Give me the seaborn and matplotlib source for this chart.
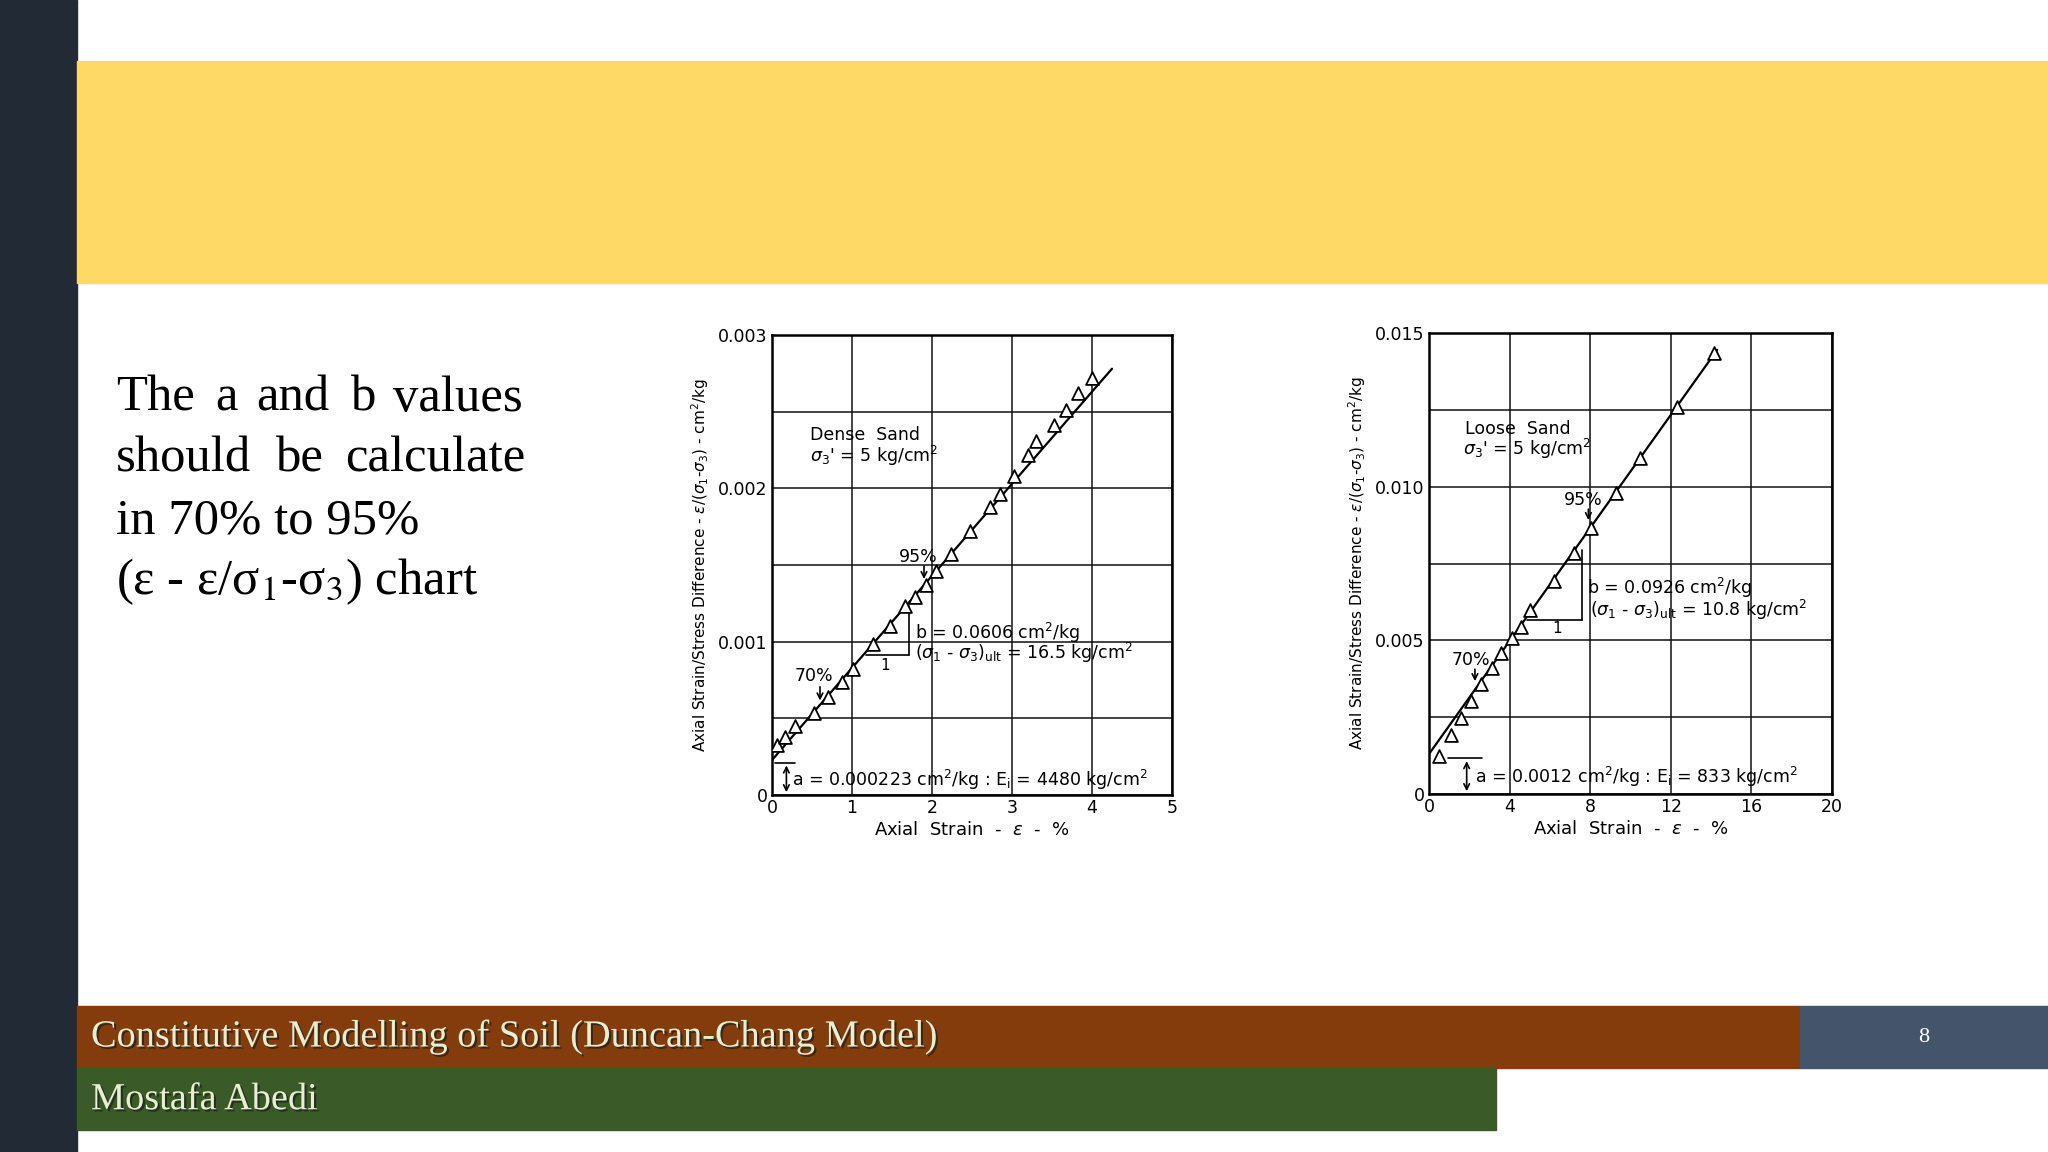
import matplotlib
matplotlib.use("Agg")
import matplotlib.pyplot as plt
import matplotlib.patheffects as pe
from matplotlib.patches import Rectangle
import seaborn as sns
import pandas as pd

# Dense sand test points (axial strain %, strain/stress difference)
dense_strain = [0.06, 0.16, 0.29, 0.52, 0.70, 0.88, 1.01, 1.26, 1.47, 1.66, 1.79, 1.92,
                2.05, 2.24, 2.48, 2.72, 2.85, 3.02, 3.20, 3.30, 3.52, 3.68, 3.82, 4.00]
dense_ratio = [0.000326, 0.00038, 0.00045, 0.000537, 0.000641, 0.000739, 0.00082, 0.000983,
               0.0011, 0.00123, 0.00129, 0.00137, 0.00146, 0.00157, 0.00172, 0.00188,
               0.00196, 0.00208, 0.00222, 0.00231, 0.00241, 0.00251, 0.00262, 0.00272]
dense_line_x = [0.0, 4.25]
dense_line_y = [0.000228, 0.00278]

# Loose sand test points
loose_strain = [0.5, 1.08, 1.59, 2.10, 2.58, 3.15, 3.58, 4.11, 4.57, 5.03, 6.21, 7.19,
                8.06, 9.29, 10.48, 12.3, 14.12]
loose_ratio = [0.00124, 0.00192, 0.00246, 0.00303, 0.00357, 0.00409, 0.0046, 0.00507,
               0.00545, 0.00599, 0.00694, 0.00784, 0.00865, 0.00979, 0.01093, 0.01258, 0.01435]
loose_line_x = [0.0, 14.3]
loose_line_y = [0.0013, 0.01445]

y_label = r"Axial Strain/Stress Difference - $\epsilon$/($\sigma_1$-$\sigma_3$) - cm$^2$/kg"
x_label = r"Axial  Strain  -  $\epsilon$  -  %"

sns.set_style("white")
plt.rcParams['font.family'] = ['DejaVu Sans']
plt.rcParams['text.color'] = 'black'
plt.rcParams['axes.labelcolor'] = 'black'
plt.rcParams['xtick.color'] = 'black'
plt.rcParams['ytick.color'] = 'black'

fig = plt.figure(figsize=(20.48, 11.52), dpi=100)
W, H = 2048, 1152


def box(x0, y0, x1, y1, color):
    # pixel box (top-left origin) -> figure rectangle
    fig.patches.append(Rectangle((x0 / W, 1 - y1 / H), (x1 - x0) / W, (y1 - y0) / H,
                                 transform=fig.transFigure, color=color, zorder=0))


box(0, 0, 77, H, '#222a36')
box(77, 61, W, 283, '#ffd966')
box(77, 1006, 1800, 1068, '#843c0c')
box(1800, 1006, W, 1068, '#44546a')
box(77, 1068, 1496, 1130, '#3a5a27')

# slide text
serif = 'Liberation Serif'
fs = 36.5
words1 = [("The", 116), ("a", 215), ("and", 256), ("b", 350), ("values", 393)]
words2 = [("should", 116), ("be", 275), ("calculate", 345)]
for w, x in words1:
    fig.text(x / W, 1 - 411 / H, w, family=serif, fontsize=fs, va='baseline', color='black')
for w, x in words2:
    fig.text(x / W, 1 - 472 / H, w, family=serif, fontsize=fs, va='baseline', color='black')
fig.text(116 / W, 1 - 533 / H, "in 70% to 95%", family=serif, fontsize=fs, va='baseline',
         color='black')
fig.text(116 / W, 1 - 594 / H, r"(ε - ε/σ$_1$-σ$_3$) chart", family=serif, fontsize=fs,
         va='baseline', math_fontfamily='stix', color='black')

shadow = [pe.withSimplePatchShadow(offset=(1.5, -1.5), shadow_rgbFace='#222222', alpha=0.8)]
fig.text(91 / W, 1 - 1037 / H, "Constitutive Modelling of Soil (Duncan-Chang Model)",
         family=serif, fontsize=27.6, color='#e6efcf', va='center', path_effects=shadow)
fig.text(91 / W, 1 - 1100 / H, "Mostafa Abedi", family=serif, fontsize=27.6,
         color='#e6efcf', va='center', path_effects=shadow)
fig.text(1924 / W, 1 - 1037 / H, "8", family=serif, fontsize=16, color='white',
         ha='center', va='center')

tfs = 12.5


def style_axes(ax, xmax, ymax, xstep, ystep, ylabels):
    ax.set_xlim(0, xmax)
    ax.set_ylim(0, ymax)
    ax.set_xticks([i * xstep for i in range(int(round(xmax / xstep)) + 1)])
    ax.set_yticks([i * ystep * 2 for i in range(4)])
    ax.set_yticklabels(ylabels)
    ax.set_yticks([ystep * (2 * i + 1) for i in range(3)], minor=True)
    ax.grid(True, which='both', color='#111111', lw=1.1)
    for s in ax.spines.values():
        s.set_color('black')
        s.set_linewidth(1.8)
    ax.tick_params(length=0, labelsize=12.5, pad=3)


def labels(ax):
    ax.set_xlabel(x_label, fontsize=13, labelpad=3)
    ax.set_ylabel(y_label, fontsize=11, labelpad=5)


# Dense sand chart
ax1 = fig.add_axes([772 / W, 1 - 795 / H, 400 / W, 460 / H])
style_axes(ax1, 5, 0.003, 1, 0.0005, ['0', '0.001', '0.002', '0.003'])
sns.lineplot(x=dense_line_x, y=dense_line_y, ax=ax1, color='black', lw=1.6)
sns.scatterplot(data=pd.DataFrame({'e': dense_strain, 'r': dense_ratio}), x='e', y='r', ax=ax1,
                marker='^', s=85, facecolor='white', edgecolor='black', linewidth=1.3, zorder=5)
labels(ax1)
ax1.text(0.48, 0.00235, "Dense  Sand", fontsize=tfs, va='center')
ax1.text(0.48, 0.00221, r"$\sigma_3$' = 5 kg/cm$^2$", fontsize=tfs, va='center')
ax1.text(1.83, 0.00155, "95%", fontsize=tfs, ha='center', va='center')
ax1.annotate('', xy=(1.9, 0.00139), xytext=(1.9, 0.00151),
             arrowprops=dict(arrowstyle='->', color='black', lw=1.2))
ax1.text(0.52, 0.000776, "70%", fontsize=tfs, ha='center', va='center')
ax1.annotate('', xy=(0.6, 0.000598), xytext=(0.6, 0.000724),
             arrowprops=dict(arrowstyle='->', color='black', lw=1.2))
ax1.plot([1.17, 1.71], [0.000913, 0.000913], color='black', lw=1.2)
ax1.plot([1.71, 1.71], [0.000913, 0.00123], color='black', lw=1.2)
ax1.text(1.42, 0.000845, "1", fontsize=11, ha='center', va='center')
ax1.text(1.79, 0.00106, r"b = 0.0606 cm$^2$/kg", fontsize=tfs, va='center')
ax1.text(1.79, 0.000925, r"($\sigma_1$ - $\sigma_3$)$_{\rm ult}$ = 16.5 kg/cm$^2$", fontsize=tfs,
         va='center')
ax1.plot([0.04, 0.29], [0.000211, 0.000211], color='black', lw=1.2)
ax1.annotate('', xy=(0.18, 0.0), xytext=(0.18, 0.000211),
             arrowprops=dict(arrowstyle='<->', color='black', lw=1.2))
ax1.text(0.25, 0.0001, r"a = 0.000223 cm$^2$/kg : E$_{\rm i}$ = 4480 kg/cm$^2$", fontsize=tfs,
         va='center')

# Loose sand chart
ax2 = fig.add_axes([1429 / W, 1 - 794 / H, 403 / W, 461 / H])
style_axes(ax2, 20, 0.015, 4, 0.0025, ['0', '0.005', '0.010', '0.015'])
sns.lineplot(x=loose_line_x, y=loose_line_y, ax=ax2, color='black', lw=1.6)
sns.scatterplot(data=pd.DataFrame({'e': loose_strain, 'r': loose_ratio}), x='e', y='r', ax=ax2,
                marker='^', s=85, facecolor='white', edgecolor='black', linewidth=1.3, zorder=5)
labels(ax2)
ax2.text(1.79, 0.01188, "Loose  Sand", fontsize=tfs, va='center')
ax2.text(1.70, 0.01124, r"$\sigma_3$' = 5 kg/cm$^2$", fontsize=tfs, va='center')
ax2.text(7.67, 0.00958, "95%", fontsize=tfs, ha='center', va='center')
ax2.annotate('', xy=(7.91, 0.00882), xytext=(7.91, 0.00936),
             arrowprops=dict(arrowstyle='->', color='black', lw=1.2))
ax2.text(2.07, 0.00436, "70%", fontsize=tfs, ha='center', va='center')
ax2.annotate('', xy=(2.28, 0.00358), xytext=(2.28, 0.00415),
             arrowprops=dict(arrowstyle='->', color='black', lw=1.2))
ax2.plot([4.85, 7.58], [0.00567, 0.00567], color='black', lw=1.2)
ax2.plot([7.58, 7.58], [0.00567, 0.00795], color='black', lw=1.2)
ax2.text(6.34, 0.0054, "1", fontsize=11, ha='center', va='center')
ax2.text(7.83, 0.00672, r"b = 0.0926 cm$^2$/kg", fontsize=tfs, va='center')
ax2.text(8.0, 0.00600, r"($\sigma_1$ - $\sigma_3$)$_{\rm ult}$ = 10.8 kg/cm$^2$", fontsize=tfs,
         va='center')
ax2.plot([0.96, 2.62], [0.00116, 0.00116], color='black', lw=1.2)
ax2.annotate('', xy=(1.87, 0.0), xytext=(1.87, 0.00116),
             arrowprops=dict(arrowstyle='<->', color='black', lw=1.2))
ax2.text(2.28, 0.000565, r"a = 0.0012 cm$^2$/kg : E$_{\rm i}$ = 833 kg/cm$^2$", fontsize=tfs,
         va='center')

fig.savefig("out.png", dpi=100)
